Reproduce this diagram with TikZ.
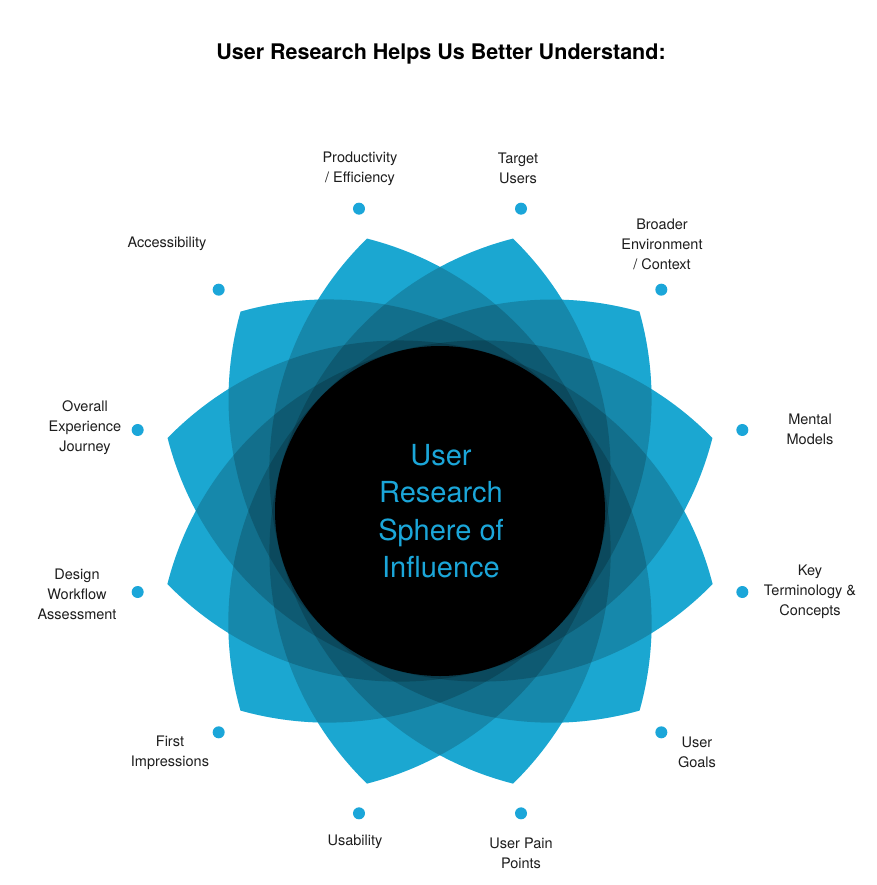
\documentclass[tikz,border=0pt]{standalone}
\usepackage{fontspec}
\setmainfont{TeX Gyre Heros}
\usetikzlibrary{calc}
\definecolor{basec}{RGB}{33,204,255}
\definecolor{ablue}{RGB}{27,166,217}
\definecolor{txtc}{RGB}{30,30,30}
\tikzset{
  lbl/.style={align=center,font=\fontsize{14.5}{20}\selectfont,text=txtc},
  dotc/.style={circle,fill=ablue,inner sep=0,minimum size=12pt}
}
\newcommand{\lenspath}{(282,0) arc[start angle=29.3,end angle=150.7,radius=323.5] arc[start angle=209.3,end angle=330.7,radius=323.5] -- cycle}
\begin{document}
\begin{tikzpicture}[x=1pt,y=-1pt]
\useasboundingbox (0,0) rectangle (876,885);
\fill[white] (0,0) rectangle (876,885);
\node[font=\fontsize{21.5}{24}\selectfont\bfseries,text=black] (title) at (441,54) {User Research Helps Us Better Understand:};
\foreach \a in {15,45,...,165}{
  \fill[basec,shift={(440,511)},rotate=\a] \lenspath;
}
\foreach \a in {15,45,...,165}{
  \fill[black,fill opacity=0.18,shift={(440,511)},rotate=\a] \lenspath;
}
\fill[black] (440,511) circle (165);
\node[align=center,text=ablue,font=\fontsize{29}{37.5}\selectfont] (core) at (441,511) {User\\Research\\Sphere of\\Influence};
\foreach \a/\n in {15/d1,45/d2,75/d3,105/d4,135/d5,165/d6,195/d7,225/d8,255/d9,285/d10,315/d11,345/d12}{
  \node[dotc] (\n) at ($(440,511)+(-\a:313)$) {};
}
\node[lbl] (l1) at (360,169) {Productivity\\/ Efficiency};
\node[lbl] (l2) at (518,168) {Target\\Users};
\node[lbl] (l3) at (662,244) {Broader\\Environment\\/ Context};
\node[lbl] (l4) at (167,244) {Accessibility};
\node[lbl] (l5) at (810,429) {Mental\\Models};
\node[lbl] (l6) at (85,428) {Overall\\Experience\\Journey};
\node[lbl] (l7) at (810,592) {Key\\Terminology \&\\Concepts};
\node[lbl] (l8) at (77,594) {Design\\Workflow\\Assessment};
\node[lbl] (l9) at (170,753) {First\\Impressions};
\node[lbl] (l10) at (697,752) {User\\Goals};
\node[lbl] (l11) at (355,842) {Usability};
\node[lbl] (l12) at (521,853) {User Pain\\Points};
\end{tikzpicture}
\end{document}
